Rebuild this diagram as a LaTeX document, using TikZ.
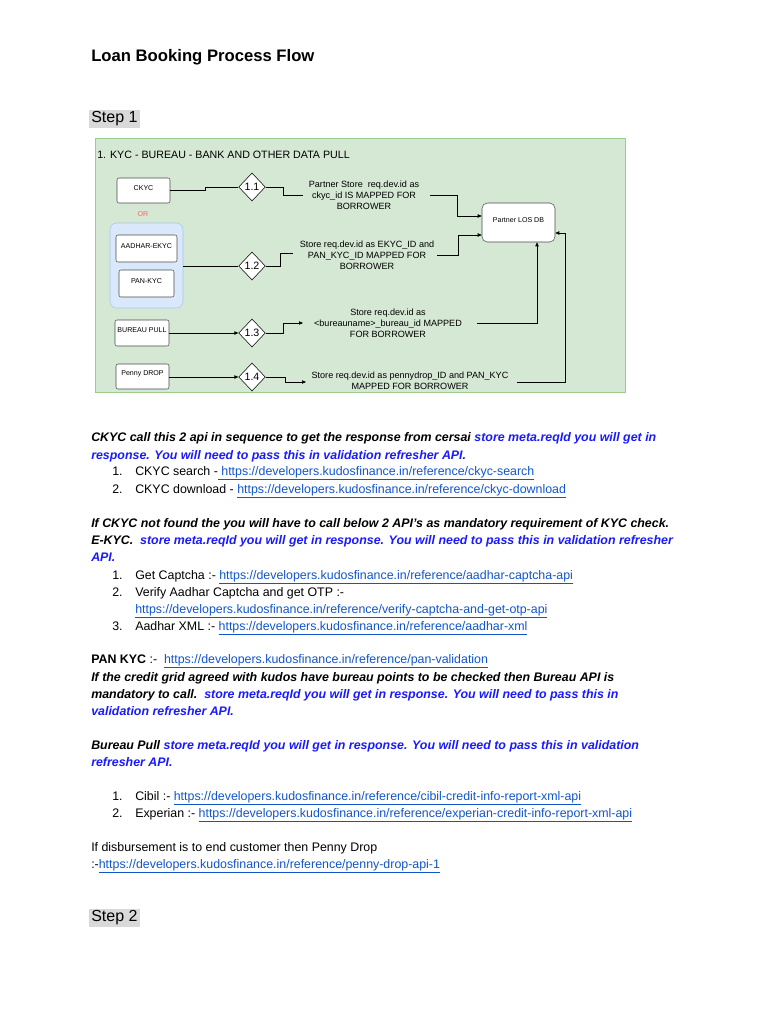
\documentclass[tikz,border=0pt]{standalone}
\usepackage{fontspec}
\setmainfont{Liberation Sans}
\usetikzlibrary{shapes.geometric,fit,arrows.meta}
\definecolor{linkc}{HTML}{1155CC}
\definecolor{bluet}{HTML}{1A1AFF}
\definecolor{gfill}{HTML}{D5E8D4}
\definecolor{gdraw}{HTML}{9CCB8E}
\definecolor{grpfill}{HTML}{DAE8FC}
\definecolor{grpdraw}{HTML}{A9C4EB}
\newcommand{\lnk}[1]{\textcolor{linkc}{\underline{#1}}}
\newcommand{\bt}[1]{\textcolor{bluet}{#1}}
\tikzset{
  txt/.style={anchor=base west,inner sep=0pt,font=\fontsize{9.3}{11}\selectfont},
  bi/.style={txt,font=\fontsize{9.3}{11}\selectfont\bfseries\itshape},
  box/.style={draw=black!70,fill=white,rounded corners=1.5pt,inner sep=0pt,line width=0.4pt,font=\fontsize{5.3}{6}\selectfont},
  dia/.style={diamond,draw,fill=white,inner sep=0pt,minimum width=20pt,minimum height=21pt,font=\fontsize{8}{9}\selectfont},
  lbl/.style={align=center,inner sep=0pt,font=\fontsize{6.8}{8.4}\selectfont},
  con/.style={line width=0.5pt},
  arr/.style={con,-{Triangle[length=3pt,width=2.5pt]}},
  stepl/.style={fill=black!15,inner sep=1.5pt,anchor=west,font=\fontsize{12}{14}\selectfont}
}
\begin{document}
\begin{tikzpicture}[x=0.75pt,y=-0.75pt]
\useasboundingbox (0,0) rectangle (768,1024);
\fill[white] (0,0) rectangle (768,1024);
\node[anchor=west,inner sep=0,font=\fontsize{12.5}{14}\selectfont\bfseries] (title) at (91,57) {Loan Booking Process Flow};
\node[stepl] (s1) at (89,119) {Step 1};
% diagram
\node[fill=gfill,draw=gdraw,fit={(95,138)(625,392)},inner sep=0] (frame) {};
\node[anchor=west,inner sep=0,font=\fontsize{8}{9}\selectfont] (dtitle) at (97,155) {1. KYC - BUREAU - BANK AND OTHER DATA PULL};
\node[box,fit={(117,178)(170,203)}] (ckyc) {CKYC};
\node[inner sep=0,text=red!60,font=\fontsize{5.3}{6}\selectfont] (or) at (143,214) {OR};
\node[fill=grpfill,draw=grpdraw,rounded corners=5pt,fit={(110,223)(183,308)},inner sep=0] (grp) {};
\node[box,fit={(116,235)(177,262)}] (aadhar) {AADHAR-EKYC};
\node[box,fit={(119,270)(174,297)}] (pan) {PAN-KYC};
\node[box,fit={(115,320)(169,346)}] (bureau) {BUREAU PULL};
\node[box,fit={(116,364)(169,389)}] (penny) {Penny DROP};
\node[box,rounded corners=4pt,fit={(482,203)(555,242)}] (los) {Partner LOS DB};
\node[dia] (d1) at (252,187) {1.1};
\node[dia] (d2) at (252,266) {1.2};
\node[dia] (d3) at (252,333) {1.3};
\node[dia] (d4) at (252,377) {1.4};
\node[lbl] (t1) at (364,195) {Partner Store\ \ req.dev.id as\\ckyc\_id IS MAPPED FOR\\BORROWER};
\node[lbl] (t2) at (367,255) {Store req.dev.id as EKYC\_ID and\\PAN\_KYC\_ID MAPPED FOR\\BORROWER};
\node[lbl] (t3) at (388,323) {Store req.dev.id as\\<bureauname>\_bureau\_id MAPPED\\FOR BORROWER};
\node[lbl] (t4) at (410,381) {Store req.dev.id as pennydrop\_ID and PAN\_KYC\\MAPPED FOR BORROWER};
\coordinate (t1w) at (303,195); \coordinate (t1e) at (430,195);
\coordinate (t2w) at (293,253); \coordinate (t2e) at (437,255);
\coordinate (t3w) at (303,323); \coordinate (t3e) at (477,323);
\coordinate (t4w) at (306,382); \coordinate (t4e) at (517,382);
\draw[con] (ckyc.east) -- (205,190.5) -- (205,187) -- (d1.west);
\draw[con] (d1.east) -- (283,187) -- (283,195) -- (t1w);
\draw[arr] (t1e) -- (457,195) -- (457,216) -- (los.west |- 0,216);
\draw[con] (grp.east |- d2) -- (d2.west);
\draw[con] (d2.east) -- (280,266) -- (280,253) -- (t2w);
\draw[arr] (t2e) -- (458,255) -- (458,235) -- (los.west |- 0,235);
\draw[arr] (bureau.east) -- (d3.west);
\draw[arr] (d3.east) -- (283,333) -- (283,323) -- (t3w);
\draw[arr] (t3e) -- (537,323) -- (los.south -| 537,0);
\draw[arr] (penny.east |- d4) -- (d4.west);
\draw[arr] (d4.east) -- (285,377) -- (285,382) -- (t4w);
\draw[arr] (t4e) -- (565,382) -- (565,233) -- (los.east |- 0,233);
% text
\node[bi] (p1a) at (91,441) {CKYC call this 2 api in sequence to get the response from cersai \bt{store meta.reqId you will get in}};
\node[bi] (p1b) at (91,459) {\bt{response. You will need to pass this in validation refresher API.}};
\node[txt] (n1) at (112,475) {1.};\node[txt] (l1) at (135,475) {CKYC search -\lnk{ https://developers.kudosfinance.in/reference/ckyc-search}};
\node[txt] (n2) at (112,493) {2.};\node[txt] (l2) at (135,493) {CKYC download - \lnk{https://developers.kudosfinance.in/reference/ckyc-download}};
\node[bi] (p2a) at (91,527) {If CKYC not found the you will have to call below 2 API’s as mandatory requirement of KYC check.};
\node[bi] (p2b) at (91,544) {E-KYC.\ \ \bt{store meta.reqId you will get in response. You will need to pass this in validation refresher}};
\node[bi] (p2c) at (91,561) {\bt{API.}};
\node[txt] (n3) at (112,579) {1.};\node[txt] (l3) at (135,579) {Get Captcha :- \lnk{https://developers.kudosfinance.in/reference/aadhar-captcha-api}};
\node[txt] (n4) at (112,596) {2.};\node[txt] (l4) at (135,596) {Verify Aadhar Captcha and get OTP :-};
\node[txt] (l4b) at (135,613) {\lnk{https://developers.kudosfinance.in/reference/verify-captcha-and-get-otp-api}};
\node[txt] (n5) at (112,630) {3.};\node[txt] (l5) at (135,630) {Aadhar XML :- \lnk{https://developers.kudosfinance.in/reference/aadhar-xml}};
\node[txt] (p3a) at (91,663) {\textbf{PAN KYC} :-\ \ \lnk{https://developers.kudosfinance.in/reference/pan-validation}};
\node[bi] (p3b) at (91,681) {If the credit grid agreed with kudos have bureau points to be checked then Bureau API is};
\node[bi] (p3c) at (91,698) {mandatory to call.\ \ \bt{store meta.reqId you will get in response. You will need to pass this in}};
\node[bi] (p3d) at (91,715) {\bt{validation refresher API.}};
\node[bi] (p4a) at (91,749) {Bureau Pull \bt{store meta.reqId you will get in response. You will need to pass this in validation}};
\node[bi] (p4b) at (91,766) {\bt{refresher API.}};
\node[txt] (n6) at (112,800) {1.};\node[txt] (l6) at (135,800) {Cibil :- \lnk{https://developers.kudosfinance.in/reference/cibil-credit-info-report-xml-api}};
\node[txt] (n7) at (112,817) {2.};\node[txt] (l7) at (135,817) {Experian :- \lnk{https://developers.kudosfinance.in/reference/experian-credit-info-report-xml-api}};
\node[txt] (p5a) at (91,851) {If disbursement is to end customer then Penny Drop};
\node[txt] (p5b) at (91,868) {:-\lnk{https://developers.kudosfinance.in/reference/penny-drop-api-1}};
\node[stepl] (s2) at (89,918) {Step 2};
\end{tikzpicture}
\end{document}
